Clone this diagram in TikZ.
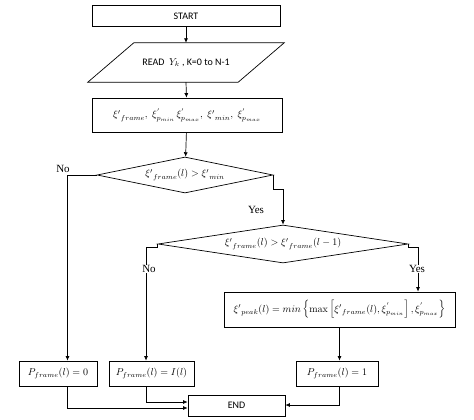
\documentclass[tikz,border=0pt]{standalone}
\usepackage[no-math]{fontspec}
\setmainfont{Carlito}
\newfontfamily\lblfont{Liberation Serif}
\usetikzlibrary{shapes.geometric,arrows.meta}
\tikzset{
  box/.style={draw, line width=0.7pt, inner sep=0pt, font=\fontsize{10}{12}\selectfont},
  decision/.style={draw, line width=0.7pt, shape=diamond, inner sep=0pt, font=\fontsize{10}{12}\selectfont},
  io/.style={inner sep=0pt, font=\fontsize{10}{12}\selectfont},
  outline/.style={line width=0.7pt},
  arr/.style={line width=0.7pt, -{Latex[length=4.5pt,width=4pt]}},
  lbl/.style={font=\lblfont\fontsize{11}{13}\selectfont, inner sep=0.5pt},
}
\begin{document}
\begin{tikzpicture}[x=1pt,y=-1pt]
\useasboundingbox (0,0) rectangle (474,420);
\node[box, minimum width=188pt, minimum height=21pt] (start) at (186,16) {START};
\node[io, minimum width=150pt, minimum height=39pt] (read) at (186,62.5) {READ \ $Y_k$ , K=0 to N-1};
\draw[outline] ([xshift=-23pt]read.south west) -- ([xshift=23pt]read.north west)
  -- ([xshift=23pt]read.north east) -- ([xshift=-23pt]read.south east) -- cycle;
\node[box, minimum width=190pt, minimum height=34pt] (vars) at (187,115)
  {${\xi'}_{frame},\; \xi^{'}_{p_{min}}\, \xi^{'}_{p_{max}},\; {\xi'}_{min},\; \xi^{'}_{p_{max}}$};
\node[decision, minimum width=176pt, minimum height=36pt, aspect=4.9] (d1) at (185,175)
  {${\xi'}_{frame}(l) > {\xi'}_{min}$};
\node[decision, minimum width=250pt, minimum height=38pt, aspect=6.6] (d2) at (283,244)
  {${\xi'}_{frame}(l) > {\xi'}_{frame}(l-1)$};
\node[box, minimum width=231pt, minimum height=35pt] (peak) at (339.5,309.5)
  {${\xi'}_{peak}(l) = min\left\{\max\left[{\xi'}_{frame}(l), \xi^{'}_{p_{min}}\right], \xi^{'}_{p_{max}}\right\}$};
\node[box, minimum width=78pt, minimum height=25pt] (p0) at (58,373.5) {$P_{frame}(l) = 0$};
\node[box, minimum width=85pt, minimum height=25pt] (pI) at (151.5,373.5) {$P_{frame}(l) = I(l)$};
\node[box, minimum width=82pt, minimum height=25pt] (p1) at (337,373.5) {$P_{frame}(l) = 1$};
\node[box, minimum width=97pt, minimum height=21pt] (end) at (236.5,405.5) {END};

\draw[arr] (start) -- (read.north);
\draw[arr] (read.south) -- (vars);
\draw[arr] (vars) -- (d1);
\draw[arr] (d1.west) -| ([xshift=9.5pt]p0.north);
\draw[arr] (d1.east) -- ++(0,14) -| (d2.north);
\draw[arr] (d2.west) -- ++(0,3) -| ([xshift=-5.5pt]pI.north);
\draw[arr] (d2.east) -- ++(0,3) -| ([xshift=78.5pt]peak.north);
\draw[arr] (peak.south) -- (peak.south |- p1.north);
\draw[arr] ([xshift=9pt]p0.south) |- ([yshift=-2.5pt]end.west);
\draw[arr] ([xshift=-5.5pt]pI.south) |- ([yshift=3.5pt]end.west);
\draw[arr] ([xshift=2pt]p1.south) |- ([yshift=0.5pt]end.east);

\node[lbl] (no1) at (63,169) {No};
\node[lbl] (yes1) at (256,210) {Yes};
\node[lbl, fill=white] (no2) at (149,269) {No};
\node[lbl, fill=white] (yes2) at (417,269) {Yes};
\end{tikzpicture}
\end{document}
